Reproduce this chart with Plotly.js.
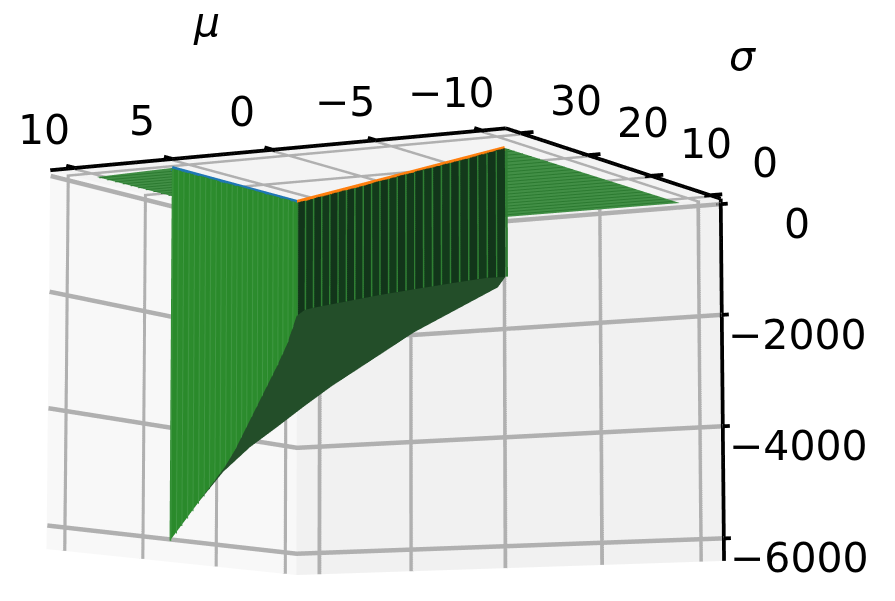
<!DOCTYPE html>
<html><head><meta charset="utf-8"><script src="https://cdn.plot.ly/plotly-3.0.0.min.js"></script>
<style>html,body{margin:0;padding:0;width:895px;height:601px;overflow:hidden;background:#fff}
#g{position:absolute;left:-307px;top:-1289px;width:1400px;height:3316px}</style></head>
<body><div id="g"></div><script>
var muRange=[-11.1,11.3], sigmaRange=[-1.85,32.1], zRange=[-6400,100];
var muTicks=[10,5,0,-5,-10], muLabels=['10','5','0','\u22125','\u221210'];
var sigmaTicks=[30,20,10,0], sigmaLabels=['30','20','10','0'];
var zTicks=[0,-2000,-4000,-6000], zLabels=['0','\u22122000','\u22124000','\u22126000'];

// plateau at z = 0
var plateauMu=[9.65,5.47,5.58,-9.53,-9.61,9.65];
var plateauSigma=[30.2,31.0,13.74,27.42,0.09,0.1];

// wall hanging from the blue line
var blueMu=[5.47,5.47,5.48,5.48,5.49,5.49,5.49,5.50,5.50,5.51,5.51,5.51,5.52,5.52,5.53,5.53,5.54,5.54,5.55,5.55,5.55,5.56,5.56,5.57,5.58];
var blueSigma=[31.00,30.28,29.56,28.84,28.12,27.40,26.68,25.96,25.25,24.53,23.81,23.09,22.37,21.65,20.93,20.21,19.49,18.77,18.06,17.34,16.62,15.90,15.18,14.46,13.74];
var blueBottom=[-6323,-6185,-6048,-5911,-5774,-5636,-5499,-5362,-5225,-5087,-4950,-4784,-4618,-4420,-4222,-4024,-3826,-3628,-3431,-3233,-3035,-2821,-2608,-2330,-2050];

// wall hanging from the orange line
var orangeMu=[5.58,4.95,4.32,3.69,3.06,2.43,1.80,1.17,0.54,-0.09,-0.71,-1.34,-1.97,-2.60,-3.23,-3.86,-4.49,-5.12,-5.75,-6.38,-7.01,-7.64,-8.27,-8.90,-9.53];
var orangeSigma=[13.74,14.31,14.88,15.45,16.02,16.59,17.16,17.73,18.30,18.87,19.44,20.01,20.58,21.15,21.72,22.29,22.86,23.43,24.00,24.57,25.14,25.71,26.28,26.85,27.42];
var orangeBottom=[-2050,-1975,-1969,-1972,-1975,-1978,-1981,-1984,-1987,-1990,-1993,-2000,-2007,-2014,-2021,-2028,-2036,-2043,-2050,-2059,-2068,-2077,-2087,-2111,-2136];

// far boundary of the sunken sheet
var lowerMu=[5.47,4.21,2.95,1.70,0.44,-0.82,-2.08,-3.34,-4.60,-5.85,-7.11,-8.37,-9.63];
var lowerSigma=[31.00,30.81,30.63,30.45,30.26,30.08,29.90,29.71,29.53,29.35,29.17,28.98,28.80];
var lowerZ=[-6323,-5729,-5193,-4799,-4482,-4155,-3844,-3567,-3291,-3016,-2794,-2571,-2349];

// texture lines on the plateau
var stripeSigmaRight=[1.25,2.5,3.75,5,6.25,7.5,8.75,10,11.25,12.5,13.75,15,16.25,17.5,18.75,20,21.25,22.5,23.75,25,26.25,27];
var stripeMuEnd=[5.58,5.58,5.58,5.58,5.58,5.58,5.58,5.58,5.58,5.58,5.58,4.19,2.81,1.43,0.05,-1.33,-2.71,-4.09,-5.47,-6.85,-8.23,-9.07];
var stripeSigmaLeft=[21,22,23,24,25,26,27,28,29,30];

function line(color,width,X,Y,Z){return {type:'scatter3d',mode:'lines',x:X,y:Y,z:Z,hoverinfo:'skip',showlegend:false,line:{color:color,width:width}}}
function seg(a,p,q){a.x.push(p[0],q[0],NaN);a.y.push(p[1],q[1],NaN);a.z.push(p[2],q[2],NaN)}
var mu0=muRange[0],mu1=muRange[1],s0=sigmaRange[0],s1=sigmaRange[1],z0=zRange[0],z1=zRange[1];

// grid
var gr={x:[],y:[],z:[]},e=0.03;
muTicks.forEach(function(m){seg(gr,[m,s0+e,z0],[m,s0+e,z1]);seg(gr,[m,s0,z1-4],[m,s1,z1-4])});
sigmaTicks.forEach(function(s){seg(gr,[mu1-e,s,z0],[mu1-e,s,z1]);seg(gr,[mu0,s,z1-4],[mu1,s,z1-4])});
zTicks.forEach(function(z){seg(gr,[mu0,s0+e,z],[mu1,s0+e,z]);seg(gr,[mu1-e,s0,z],[mu1-e,s1,z])});

// axes and tick marks
var ax={x:[],y:[],z:[]};
seg(ax,[mu0,s1,z1],[mu1,s1,z1]);seg(ax,[mu0,s1,z1],[mu0,s0,z1]);seg(ax,[mu0,s0,z1],[mu0,s0,z0]);
muTicks.forEach(function(m){seg(ax,[m,s1-0.3,z1],[m,s1+1.1,z1])});
sigmaTicks.forEach(function(s){seg(ax,[mu0+0.3,s,z1],[mu0-0.6,s,z1])});
zTicks.forEach(function(z){seg(ax,[mu0+0.25,s0,z],[mu0-0.35,s0,z])});

// mesh
var vx=[],vy=[],vz=[],I=[],J=[],K=[],FC=[];
function V(a,b,c){vx.push(a);vy.push(b);vz.push(c);return vx.length-1}
function T(a,b,c,col){I.push(a);J.push(b);K.push(c);FC.push(col)}
function quad(a,b,c,d,col){var A=V(a[0],a[1],a[2]),B=V(b[0],b[1],b[2]),C=V(c[0],c[1],c[2]),D=V(d[0],d[1],d[2]);T(A,B,C,col);T(A,C,D,col)}
// panes
quad([mu1,s0,z0],[mu1,s1,z0],[mu1,s1,z1],[mu1,s0,z1],'#f8f8f8');
quad([mu0,s0,z0],[mu1,s0,z0],[mu1,s0,z1],[mu0,s0,z1],'#f1f1f1');
quad([mu0,s0,z1],[mu1,s0,z1],[mu1,s1,z1],[mu0,s1,z1],'#f4f4f4');
var pl=plateauMu.map(function(m,i){return V(m,plateauSigma[i],0)});
[[0,1,2],[0,2,5],[2,3,4],[2,4,5]].forEach(function(t){T(pl[t[0]],pl[t[1]],pl[t[2]],'#428f46')});
function wall(M,S,B,c1,c2){var prevT=null,prevB=null;M.forEach(function(m,i){var t=V(m,S[i],0),b=V(m,S[i],B[i]);
 if(prevT!==null){var c=i%2?c1:c2;T(prevT,prevB,b,c);T(prevT,b,t,c)}prevT=t;prevB=b})}
wall(blueMu,blueSigma,blueBottom,'#2a8a2b','#2c8c2d');
wall(orangeMu,orangeSigma,orangeBottom,'#12351a','#133a1b');
// sunken sheet: strip between upper chain and lower chain
var sheetColor='#234e29';
var upM=blueMu.concat(orangeMu.slice(1)),upS=blueSigma.concat(orangeSigma.slice(1)),upZ=blueBottom.concat(orangeBottom.slice(1));
var upV=upM.map(function(m,i){return V(m,upS[i],upZ[i])}),loV=lowerMu.map(function(m,i){return V(m,lowerSigma[i],lowerZ[i])});
for(var u=0;u<blueMu.length-1;u++){T(upV[u],upV[u+1],loV[Math.floor(u/(blueMu.length-1)*6)],sheetColor);}
for(var l=0;l<6;l++){T(loV[l],loV[l+1],upV[Math.min(blueMu.length-1,Math.round((l+1)/6*(blueMu.length-1)))],sheetColor);}
var j=blueMu.length-1;
for(l=6;l<loV.length-1;l++){var nj=Math.round(blueMu.length-1+(l-5)/(loV.length-7)*(orangeMu.length-1));
 for(var q=j;q<nj;q++){T(upV[q],upV[q+1],loV[l],sheetColor)}
 T(loV[l],loV[l+1],upV[nj],sheetColor);j=nj}

var meshTrace={type:'mesh3d',x:vx,y:vy,z:vz,i:I,j:J,k:K,facecolor:FC,flatshading:true,hoverinfo:'skip',showscale:false,
 lighting:{ambient:1,diffuse:0,specular:0,roughness:1,fresnel:0},lightposition:{x:0,y:0,z:1000}};

// seams on walls
var sb={x:[],y:[],z:[]},so={x:[],y:[],z:[]};
blueMu.forEach(function(m,i){seg(sb,[m-0.06,blueSigma[i],-20],[m-0.06,blueSigma[i],blueBottom[i]])});
orangeMu.forEach(function(m,i){seg(so,[m-0.1,orangeSigma[i]+0.1,-20],[m-0.1,orangeSigma[i]+0.1,orangeBottom[i]])});

// plateau stripes
var st={x:[],y:[],z:[]};
stripeSigmaRight.forEach(function(s,i){seg(st,[-9.6,s,-10],[stripeMuEnd[i],s,-10])});
stripeSigmaLeft.forEach(function(s){seg(st,[5.5,s,-10],[9.6,s,-10])});

var data=[meshTrace,
 line('#b0b0b0',9,gr.x,gr.y,gr.z),
 line('#000000',7.5,ax.x,ax.y,ax.z),
 line('#3f9742',2,sb.x,sb.y,sb.z),
 line('#2f7f33',5,so.x,so.y,so.z),
 line('#2b7a30',2,st.x,st.y,st.z),
 line('#1f77b4',10,[blueMu[0],blueMu[24]],[blueSigma[0],blueSigma[24]],[-8,-8]),
 line('#ff7f0e',10,[orangeMu[0],orangeMu[24]],[orangeSigma[0],orangeSigma[24]],[-8,-8])];

var F={family:'DejaVu Sans',size:41,color:'#000'};
function ann(x,y,z,t,xs,ys){return {x:x,y:y,z:z,text:t,showarrow:false,font:F,xanchor:'center',yanchor:'middle',xshift:xs,yshift:ys}}
var anns=[];
muTicks.forEach(function(m,i){anns.push(ann(m,s1,z1,muLabels[i],-31,38))});
sigmaTicks.forEach(function(s,i){anns.push(ann(mu0,s,z1,sigmaLabels[i],55,32))});
zTicks.forEach(function(z,i){anns.push(ann(mu0,s0,z,zLabels[i],76,-20))});
anns.push(ann(3.3,s1,z1,'<i>\u03bc</i>',0,134));
anns.push(ann(mu0,12,z1,'<i>\u03c3</i>',104,116));

// the scene box is wider than the drawn panes so that axis lines and tick marks are not clipped at its edge
function axis(r){return {range:r,autorange:false,showgrid:false,zeroline:false,showticklabels:false,ticks:'',showline:false,showspikes:false,title:{text:''},showbackground:false}}
var layout={width:1400,height:3316,margin:{l:0,r:0,t:0,b:0,pad:0},paper_bgcolor:'#fff',showlegend:false,hovermode:false,
 scene:{domain:{x:[0,1],y:[0,1]},bgcolor:'#fff',aspectmode:'manual',aspectratio:{x:1.41429,y:1.42715,z:1.10807},
  camera:{eye:{x:-4.5649,y:8.3238,z:-1.0569},center:{x:0,y:0,z:0},up:{x:0,y:0,z:1},projection:{type:'perspective'}},
  xaxis:axis([mu0-2,mu1+2]),yaxis:axis([s0-4,s1+4]),zaxis:axis([z0-800,z1+800]),annotations:anns}};
Plotly.newPlot('g',data,layout,{displayModeBar:false,staticPlot:false,responsive:false});
</script></body></html>
